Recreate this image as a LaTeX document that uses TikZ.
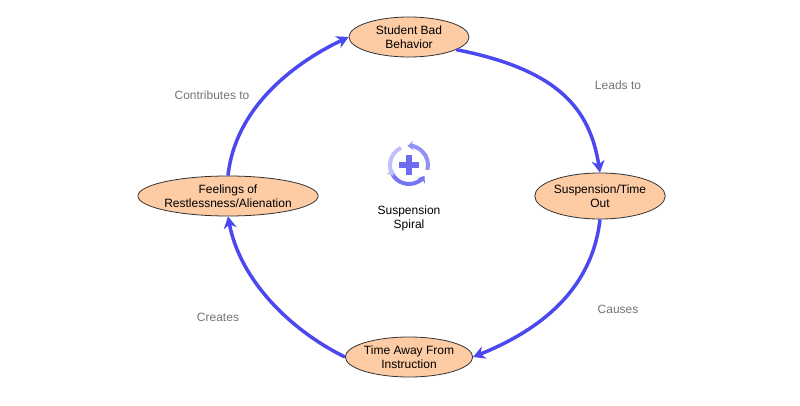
\documentclass[tikz,border=0pt]{standalone}
\usepackage{fontspec}
\setmainfont{Liberation Sans}
\usetikzlibrary{arrows.meta,shapes.geometric}
\definecolor{fillc}{HTML}{FDCBA4}
\definecolor{arc}{HTML}{4A48EE}
\begin{document}
\begin{tikzpicture}[x=1pt,y=-1pt,
  st/.style={ellipse,draw=black!80,line width=0.8pt,fill=fillc,minimum height=40pt,inner sep=0pt,align=center,font=\fontsize{12}{14}\selectfont},
  ar/.style={draw=arc,line width=3.5pt,-{Stealth[length=12pt,width=13pt]}},
  lb/.style={text=black!55,font=\fontsize{12}{14}\selectfont}]
\useasboundingbox (0,0) rectangle (800,406);
\node[st,minimum width=120pt] (t) at (409,37) {Student Bad\\Behavior};
\node[st,minimum width=120pt,minimum height=46pt] (r) at (600,196) {Suspension/Time\\Out};
\node[st,minimum width=120pt] (b) at (409,357) {Time Away From\\Instruction};
\node[st,minimum width=136pt] (l) at (228,196) {Feelings of\\Restlessness/Alienation};
\draw[ar] (t.-15) .. controls (560,70) and (590,110) .. (r.north);
\draw[ar] (r.south) .. controls (592,290) and (540,330) .. (b.east);
\draw[ar] (b.west) .. controls (290,330) and (240,280) .. (l.south);
\draw[ar] (l.north) .. controls (235,110) and (290,65) .. (t.west);
\node[lb] (l1) at (618,85) {Leads to};
\node[lb] (l2) at (618,309) {Causes};
\node[lb] (l3) at (218,317) {Creates};
\node[lb] (l4) at (212,95) {Contributes to};
\coordinate (ic) at (409,165);
\begin{scope}[shift={(ic)}]
\draw[line width=4pt,color=arc!75,-{Stealth[length=6pt,width=9pt]}] (155:19) arc (155:35:19);
\draw[line width=4pt,color=arc!60,-{Stealth[length=6pt,width=9pt]}] (15:19) arc (15:-95:19);
\draw[line width=4pt,color=arc!35,-{Stealth[length=6pt,width=9pt]}] (-115:19) arc (-115:-215:19);
\fill[arc!80] (-10,-3) rectangle (10,3);
\fill[arc!80] (-3,-10) rectangle (3,10);
\end{scope}
\node[font=\fontsize{12}{14}\selectfont,align=center] (sp) at (409,218) {Suspension\\Spiral};
\end{tikzpicture}
\end{document}
